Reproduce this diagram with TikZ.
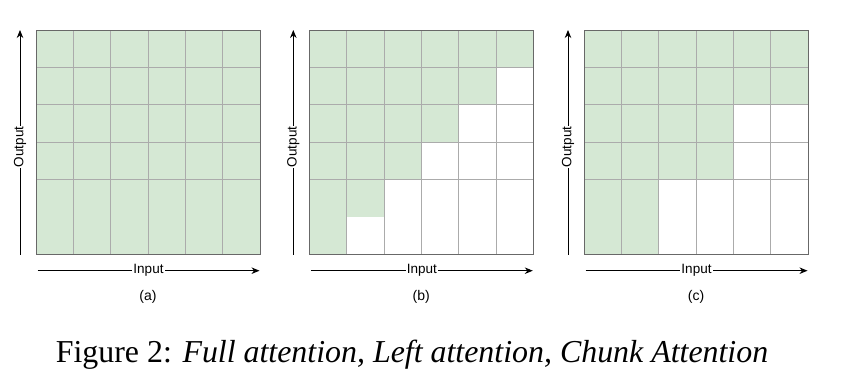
\documentclass[tikz,border=0pt]{standalone}
\usepackage{fontspec}
\setmainfont{Liberation Serif}
\setsansfont{Liberation Sans}
\usetikzlibrary{arrows.meta, positioning, calc}
\definecolor{attgreen}{HTML}{D5E8D4}
\definecolor{gridgray}{HTML}{ABABAB}
\definecolor{framegray}{HTML}{686868}

% inner lines and frame of one 6x6 grid (the two bottom rows are not split)
\newcommand{\attgrid}{%
    \foreach \i in {1,...,5} \draw[gridline] (\i,0) -- (\i,6);
    \foreach \j in {2,...,5} \draw[gridline] (0,\j) -- (6,\j);
    \draw[frame] (0,0) rectangle (6,6);
}

\begin{document}
\begin{tikzpicture}[
    x=1pt, y=1pt,
    cell/.style={fill=attgreen},
    gridline/.style={draw=gridgray, line width=0.5pt},
    frame/.style={draw=framegray, line width=0.7pt},
    axis/.style={-{Stealth[length=8pt, width=6.5pt]}, line width=0.9pt},
    axislabel/.style={font=\sffamily\fontsize{13.5}{15}\selectfont, fill=white, inner sep=1pt},
    panellabel/.style={font=\sffamily\fontsize{14}{16}\selectfont}
]
\useasboundingbox (0,0) rectangle (860,388);

% lower left corners of the three 6x6 grids
\coordinate (full) at (36,134);
\coordinate (left) at (309.3,134);
\coordinate (chunk) at (584,134);

% (a) full attention
\begin{scope}[shift={(full)}, x=37.333pt, y=37.333pt]
    \foreach \r in {0,...,5}
        \foreach \c in {0,...,5}
            \fill[cell] (\c,5-\r) rectangle ++(1,1);
    \attgrid
\end{scope}

% (b) left attention
\begin{scope}[shift={(left)}, x=37.333pt, y=37.333pt]
    \foreach \r in {0,...,5} {
        \pgfmathtruncatemacro{\last}{5-\r}
        \foreach \c in {0,...,\last}
            \fill[cell] (\c,5-\r) rectangle ++(1,1);
    }
    \attgrid
\end{scope}

% (c) chunk attention
\begin{scope}[shift={(chunk)}, x=37.333pt, y=37.333pt]
    \foreach \r/\last in {0/5, 1/5, 2/3, 3/3, 4/1, 5/1}
        \foreach \c in {0,...,\last}
            \fill[cell] (\c,5-\r) rectangle ++(1,1);
    \attgrid
\end{scope}

% axes and panel tags
\foreach \p/\tag in {full/a, left/b, chunk/c} {
    \path (\p) ++(-16,-1) coordinate (\p-ylo) ++(0,225) coordinate (\p-yhi);
    \path (\p) ++(1.5,-16.7) coordinate (\p-xlo) ++(222,0) coordinate (\p-xhi);
    \draw[axis] (\p-ylo) -- (\p-yhi) node[axislabel, pos=0.48, rotate=90] (\p-out) {Output};
    \draw[axis] (\p-xlo) -- (\p-xhi) node[axislabel, midway] (\p-in) {Input};
    \node[panellabel] (\p-tag) at ($(\p)+(112,-42.7)$) {(\tag)};
}

% caption
\node[font=\fontsize{31.9}{36}\selectfont] (caption) at (412,33)
    {Figure 2: \textit{Full attention, Left attention, Chunk Attention}};

\end{tikzpicture}
\end{document}
